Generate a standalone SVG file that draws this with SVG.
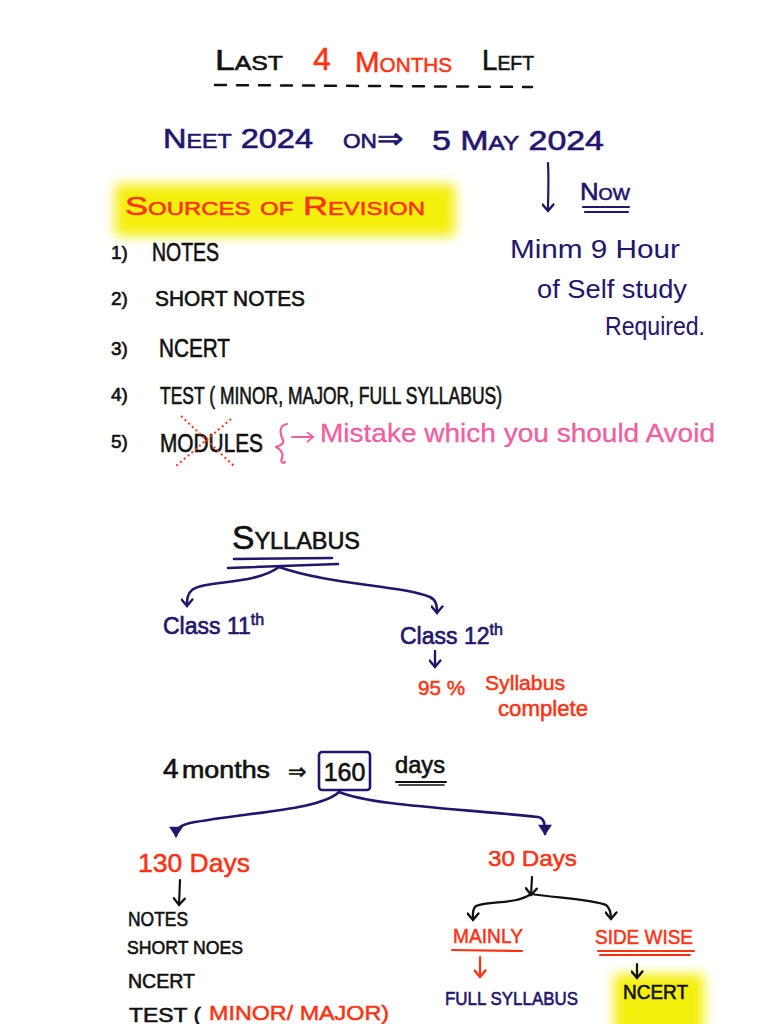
<svg xmlns="http://www.w3.org/2000/svg" width="768" height="1024" viewBox="0 0 768 1024">
<style>
text{font-family:"Liberation Sans",Arial,sans-serif;}
.sc{font-variant:small-caps;}
.k{fill:#111;stroke:#111;stroke-width:0.6;}
.n{fill:#23146e;stroke:#23146e;stroke-width:0.6;}
.nl{fill:#23146e;}
.r{fill:#ff3212;stroke:#ff3212;stroke-width:0.5;}
.p{fill:#f0609c;stroke:#f0609c;stroke-width:0.3;}
.ln{fill:none;stroke-linecap:round;stroke-linejoin:round;}
</style>
<defs>
<filter id="blur" x="-20%" y="-40%" width="140%" height="180%"><feGaussianBlur stdDeviation="6"/></filter>
<marker id="openK" viewBox="0 0 12 12" refX="10" refY="6" markerWidth="13" markerHeight="13" markerUnits="userSpaceOnUse" orient="auto"><path d="M4,1 L10,6 L4,11" fill="none" stroke="#111" stroke-width="2.2" stroke-linecap="round"/></marker>
<marker id="openNv" viewBox="0 0 12 12" refX="10" refY="6" markerWidth="13" markerHeight="13" markerUnits="userSpaceOnUse" orient="auto"><path d="M4,1 L10,6 L4,11" fill="none" stroke="#23146e" stroke-width="2.2" stroke-linecap="round"/></marker>
<marker id="openR" viewBox="0 0 12 12" refX="10" refY="6" markerWidth="13" markerHeight="13" markerUnits="userSpaceOnUse" orient="auto"><path d="M4,1 L10,6 L4,11" fill="none" stroke="#ff3212" stroke-width="2.2" stroke-linecap="round"/></marker>
<marker id="openP" viewBox="0 0 12 12" refX="10" refY="6" markerWidth="11" markerHeight="11" markerUnits="userSpaceOnUse" orient="auto"><path d="M4,1 L10,6 L4,11" fill="none" stroke="#f0609c" stroke-width="2" stroke-linecap="round"/></marker>
<marker id="fillN" viewBox="0 0 12 12" refX="10" refY="6" markerWidth="14" markerHeight="14" markerUnits="userSpaceOnUse" orient="auto"><path d="M2,0 L11,6 L2,12 Z" fill="#23146e"/></marker>
</defs>
<rect width="768" height="1024" fill="#fff"/>

<!-- highlights -->
<rect x="115" y="184" width="340" height="52" fill="#f4ef10" filter="url(#blur)"/>
<rect x="614" y="974" width="90" height="60" fill="#f4ef10" filter="url(#blur)"/>

<g id="title">
<text class="k sc" x="215" y="70" font-size="30" textLength="68" lengthAdjust="spacingAndGlyphs">Last</text>
<text class="r" x="313" y="70" font-size="32">4</text>
<text class="r sc" x="355" y="72" font-size="30" textLength="97" lengthAdjust="spacingAndGlyphs">Months</text>
<text class="k sc" x="482" y="70" font-size="30" textLength="52" lengthAdjust="spacingAndGlyphs">Left</text>
<line class="ln" x1="215" y1="85" x2="532" y2="87" stroke="#111" stroke-width="2.5" stroke-dasharray="11 11"/>
</g>

<g id="neet">
<text class="n sc" x="163" y="148" font-size="28" textLength="150" lengthAdjust="spacingAndGlyphs">Neet 2024</text>
<text class="n sc" x="343" y="148" font-size="28" textLength="60" lengthAdjust="spacingAndGlyphs">on⇒</text>
<text class="n sc" x="432" y="150" font-size="28" textLength="172" lengthAdjust="spacingAndGlyphs">5 May 2024</text>
</g>

<g id="now">
<text class="n sc" x="580" y="200" font-size="24" textLength="50" lengthAdjust="spacingAndGlyphs">Now</text>
<line class="ln" x1="583" y1="207" x2="629" y2="207" stroke="#23146e" stroke-width="2.2"/>
<line class="ln" x1="585" y1="212" x2="628" y2="212" stroke="#23146e" stroke-width="2.2"/>
</g>

<g id="selfstudy">
<text class="nl" x="510" y="258" font-size="25" textLength="170" lengthAdjust="spacingAndGlyphs">Minm 9 Hour</text>
<text class="nl" x="537" y="298" font-size="25" textLength="150" lengthAdjust="spacingAndGlyphs">of Self study</text>
<text class="nl" x="605" y="335" font-size="25" textLength="100" lengthAdjust="spacingAndGlyphs">Required.</text>
</g>

<g id="sources">
<text class="r sc" x="125" y="215" font-size="26" textLength="300" lengthAdjust="spacingAndGlyphs">Sources of Revision</text>
</g>

<g id="list">
<text class="k" x="111" y="259" font-size="19">1)</text>
<text class="k" x="152" y="261" font-size="25" textLength="67" lengthAdjust="spacingAndGlyphs">NOTES</text>
<text class="k" x="111" y="305" font-size="19">2)</text>
<text class="k" x="155" y="306" font-size="22" textLength="150" lengthAdjust="spacingAndGlyphs">SHORT NOTES</text>
<text class="k" x="111" y="355" font-size="19">3)</text>
<text class="k" x="159" y="357" font-size="25" textLength="71" lengthAdjust="spacingAndGlyphs">NCERT</text>
<text class="k" x="111" y="401" font-size="19">4)</text>
<text class="k" x="160" y="404" font-size="23" textLength="342" lengthAdjust="spacingAndGlyphs">TEST ( MINOR, MAJOR, FULL SYLLABUS)</text>
<text class="k" x="111" y="448" font-size="19">5)</text>
<text class="k" x="160" y="452" font-size="25" textLength="103" lengthAdjust="spacingAndGlyphs">MODULES</text>
<line x1="181" y1="416" x2="234" y2="466" stroke="#ff3212" stroke-width="2" stroke-dasharray="2 3"/>
<line x1="231" y1="419" x2="175" y2="467" stroke="#ff3212" stroke-width="2" stroke-dasharray="2 3"/>
</g>

<g id="mistake">
<path class="ln" d="M287,424 C277,426 281,436 283,440 C285,445 277,446 276,447 C280,449 284,452 282,458 C280,462 283,464 285,462" stroke="#f0609c" stroke-width="2.2"/>
<text class="p" x="320" y="442" font-size="26" textLength="395" lengthAdjust="spacingAndGlyphs">Mistake which you should Avoid</text>
</g>

<g id="syllabus">
<text class="k sc" x="232" y="549" font-size="33" textLength="128" lengthAdjust="spacingAndGlyphs">Syllabus</text>
<line class="ln" x1="234" y1="559" x2="332" y2="558" stroke="#23146e" stroke-width="2.6"/>
<line class="ln" x1="228" y1="568" x2="338" y2="564" stroke="#23146e" stroke-width="2.6"/>
</g>

<g id="class11"><text class="n" x="163" y="634" font-size="23">Class 11<tspan font-size="16" dy="-9">th</tspan></text></g>
<g id="class12"><text class="n" x="400" y="644" font-size="23">Class 12<tspan font-size="16" dy="-9">th</tspan></text></g>
<g id="complete">
<text class="r" x="418" y="695" font-size="21" textLength="47" lengthAdjust="spacingAndGlyphs">95 %</text>
<text class="r" x="485" y="690" font-size="20" textLength="80" lengthAdjust="spacingAndGlyphs">Syllabus</text>
<text class="r" x="498" y="716" font-size="22" textLength="90" lengthAdjust="spacingAndGlyphs">complete</text>
</g>

<g id="months">
<text class="k" x="163" y="778" font-size="28">4</text>
<text class="k" x="182" y="778" font-size="23" textLength="88" lengthAdjust="spacingAndGlyphs">months</text>
<text class="k" x="288" y="779" font-size="22">⇒</text>
</g>
<g id="box160">
<rect x="319" y="752" width="51" height="38" rx="3" fill="none" stroke="#23146e" stroke-width="2.6"/>
<text class="k" x="344.5" y="781" font-size="25" text-anchor="middle">160</text>
</g>
<g id="days">
<text class="k" x="395" y="773" font-size="24" textLength="50" lengthAdjust="spacingAndGlyphs">days</text>
<line class="ln" x1="396" y1="782" x2="446" y2="782" stroke="#111" stroke-width="2"/>
<line class="ln" x1="399" y1="785" x2="444" y2="785" stroke="#111" stroke-width="1.6"/>
</g>

<g id="d130">
<text class="r" x="138" y="872" font-size="25" textLength="112" lengthAdjust="spacingAndGlyphs">130 Days</text>
</g>
<g id="list130">
<text class="k" x="128" y="926" font-size="21" textLength="60" lengthAdjust="spacingAndGlyphs">NOTES</text>
<text class="k" x="127" y="954" font-size="19" textLength="116" lengthAdjust="spacingAndGlyphs">SHORT NOES</text>
<text class="k" x="128" y="988" font-size="21" textLength="67" lengthAdjust="spacingAndGlyphs">NCERT</text>
<text class="k" x="129" y="1022" font-size="21" textLength="72" lengthAdjust="spacingAndGlyphs">TEST (</text>
<text class="r" x="209" y="1020" font-size="21" textLength="180" lengthAdjust="spacingAndGlyphs">MINOR/ MAJOR)</text>
</g>

<g id="d30">
<text class="r" x="488" y="866" font-size="22" textLength="89" lengthAdjust="spacingAndGlyphs">30 Days</text>
</g>
<g id="mainly">
<text class="r" x="453" y="943" font-size="20" textLength="70" lengthAdjust="spacingAndGlyphs">MAINLY</text>
<line class="ln" x1="452" y1="950" x2="522" y2="951" stroke="#ff3212" stroke-width="2.2"/>
</g>
<g id="fullsyl">
<text class="n" x="445" y="1005" font-size="19" textLength="133" lengthAdjust="spacingAndGlyphs">FULL SYLLABUS</text>
</g>
<g id="sidewise">
<text class="r" x="595" y="944" font-size="21" textLength="98" lengthAdjust="spacingAndGlyphs">SIDE WISE</text>
<line class="ln" x1="598" y1="951" x2="694" y2="951" stroke="#ff3212" stroke-width="2.2"/>
<line class="ln" x1="600" y1="955" x2="690" y2="955" stroke="#ff3212" stroke-width="2"/>
</g>
<g id="ncert2">
<text class="k" x="623" y="999" font-size="20" textLength="65" lengthAdjust="spacingAndGlyphs">NCERT</text>
</g>

<g id="connectors" class="ln">
<path d="M548,163 C549,180 548,196 548,211" stroke="#23146e" stroke-width="2.2" marker-end="url(#openNv)"/>
<path d="M292,437 L313,437" stroke="#f0609c" stroke-width="2" marker-end="url(#openP)"/>
<path d="M279,567 C255,585 205,580 192,590 C187,594 187,600 187,606" stroke="#23146e" stroke-width="2.6" marker-end="url(#openNv)"/>
<path d="M279,567 C330,585 400,585 430,597 C436,600 437,605 437,613" stroke="#23146e" stroke-width="2.6" marker-end="url(#openNv)"/>
<path d="M435,651 L435,667" stroke="#23146e" stroke-width="2.4" marker-end="url(#openNv)"/>
<path d="M339,792 C320,810 250,812 190,823 C178,826 176,830 176,836" stroke="#23146e" stroke-width="2.6" marker-end="url(#fillN)"/>
<path d="M339,792 C370,805 450,808 538,817 C544,818 545,823 545,834" stroke="#23146e" stroke-width="2.6" marker-end="url(#fillN)"/>
<path d="M180,880 L179,905" stroke="#111" stroke-width="2.2" marker-end="url(#openK)"/>
<path d="M532,877 L531,895" stroke="#111" stroke-width="2.2" marker-end="url(#openK)"/>
<path d="M531,894 C515,905 490,900 476,906 C472,909 473,914 473,920" stroke="#111" stroke-width="2.2" marker-end="url(#openK)"/>
<path d="M531,894 C560,898 595,900 606,905 C610,908 611,913 611,919" stroke="#111" stroke-width="2.2" marker-end="url(#openK)"/>
<path d="M480,957 L480,977" stroke="#ff3212" stroke-width="2.2" marker-end="url(#openR)"/>
<path d="M637,964 L637,978" stroke="#111" stroke-width="2.2" marker-end="url(#openK)"/>
</g>
</svg>
